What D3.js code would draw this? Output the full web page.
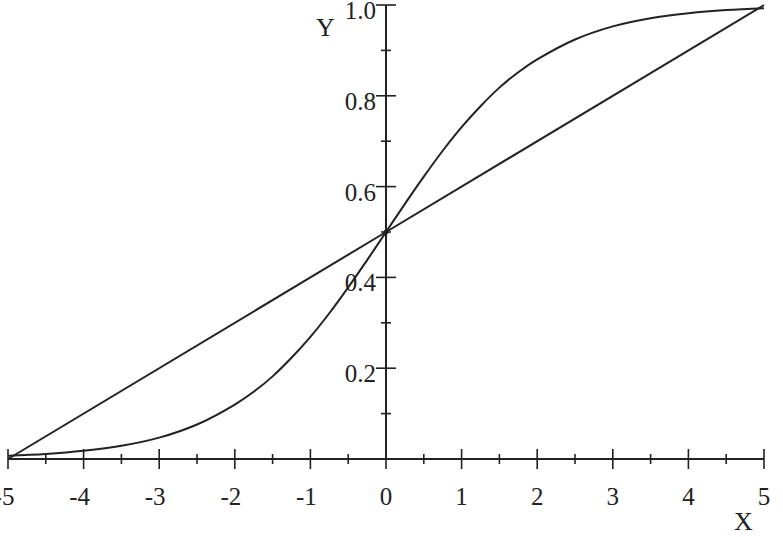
<!DOCTYPE html>
<html>
<head>
<meta charset="utf-8">
<script src="https://cdn.jsdelivr.net/npm/d3@7"></script>
<style>
  body { margin: 0; background: #fff; }
</style>
</head>
<body>
<div id="chart"></div>
<script>
var svgWidth = 783;
var svgHeight = 537;

// values
var curveX = [-5, -4.5, -4, -3.5, -3, -2.5, -2, -1.75, -1.5, -1.25, -1, -0.75, -0.5, -0.25, 0,
              0.25, 0.5, 0.75, 1, 1.25, 1.5, 1.75, 2, 2.5, 3, 3.5, 4, 4.5, 5];
var curveY = [0.007, 0.011, 0.018, 0.029, 0.047, 0.076, 0.12, 0.148, 0.182, 0.223, 0.269, 0.321, 0.378, 0.438, 0.5,
              0.562, 0.622, 0.679, 0.731, 0.777, 0.818, 0.852, 0.88, 0.924, 0.953, 0.971, 0.982, 0.989, 0.993];
var lineX = [-5, 0, 5];
var lineY = [0, 0.5, 1];
var xTicks = [-5, -4, -3, -2, -1, 0, 1, 2, 3, 4, 5];
var xMinor = [-4.5, -3.5, -2.5, -1.5, -0.5, 0.5, 1.5, 2.5, 3.5, 4.5];
var yTicks = [0.2, 0.4, 0.6, 0.8, 1.0];
var yMinor = [0.1, 0.3, 0.5, 0.7, 0.9];

var x = d3.scaleLinear().domain([-5, 5]).range([8, 764]);
var y = d3.scaleLinear().domain([0, 1]).range([459, 5]);

var font = "'Liberation Serif', 'Times New Roman', Times, serif";

var svg = d3.select("#chart").append("svg")
  .attr("width", svgWidth)
  .attr("height", svgHeight);

var ink = "#222";

// x axis
svg.append("line")
  .attr("x1", x(-5)).attr("x2", x(5))
  .attr("y1", y(0)).attr("y2", y(0))
  .attr("stroke", ink).attr("stroke-width", 2);

svg.selectAll(".xmaj").data(xTicks).enter().append("line")
  .attr("x1", d => x(d)).attr("x2", d => x(d))
  .attr("y1", y(0) - 10).attr("y2", y(0) + 10)
  .attr("stroke", ink).attr("stroke-width", 1.6);

svg.selectAll(".xmin").data(xMinor).enter().append("line")
  .attr("x1", d => x(d)).attr("x2", d => x(d))
  .attr("y1", y(0) - 5).attr("y2", y(0) + 5)
  .attr("stroke", ink).attr("stroke-width", 1.6);

svg.selectAll(".xlab").data(xTicks).enter().append("text")
  .attr("x", d => x(d) - (d < 0 ? 4 : 0))
  .attr("y", 505)
  .attr("text-anchor", "middle")
  .attr("font-family", font)
  .attr("font-size", 25)
  .attr("fill", ink)
  .text(d => d);

// y axis
svg.append("line")
  .attr("x1", x(0)).attr("x2", x(0))
  .attr("y1", y(0)).attr("y2", y(1))
  .attr("stroke", ink).attr("stroke-width", 2);

svg.selectAll(".ymaj").data(yTicks).enter().append("line")
  .attr("x1", x(0) - 10).attr("x2", x(0) + 10)
  .attr("y1", d => y(d)).attr("y2", d => y(d))
  .attr("stroke", ink).attr("stroke-width", 1.6);

svg.selectAll(".ymin").data(yMinor).enter().append("line")
  .attr("x1", x(0) - 5).attr("x2", x(0) + 5)
  .attr("y1", d => y(d)).attr("y2", d => y(d))
  .attr("stroke", ink).attr("stroke-width", 1.6);

svg.selectAll(".ylab").data(yTicks).enter().append("text")
  .attr("x", x(0) - 10)
  .attr("y", d => y(d) + 14)
  .attr("text-anchor", "end")
  .attr("font-family", font)
  .attr("font-size", 25)
  .attr("fill", ink)
  .text(d => d.toFixed(1));

svg.append("text")
  .attr("x", 316).attr("y", 36)
  .attr("font-family", font)
  .attr("font-size", 26)
  .attr("fill", ink)
  .text("Y");

svg.append("text")
  .attr("x", 734).attr("y", 530)
  .attr("font-family", font)
  .attr("font-size", 26)
  .attr("fill", ink)
  .text("X");

// curves
var lineGen = d3.line()
  .x(d => x(d[0]))
  .y(d => y(d[1]));

var smoothGen = d3.line()
  .x(d => x(d[0]))
  .y(d => y(d[1]))
  .curve(d3.curveCatmullRom);

svg.append("path")
  .datum(d3.zip(lineX, lineY))
  .attr("d", lineGen)
  .attr("fill", "none")
  .attr("stroke", ink)
  .attr("stroke-width", 2);

svg.append("path")
  .datum(d3.zip(curveX, curveY))
  .attr("d", smoothGen)
  .attr("fill", "none")
  .attr("stroke", ink)
  .attr("stroke-width", 2);

svg.append("circle")
  .attr("cx", x(0)).attr("cy", y(0.5))
  .attr("r", 2.5)
  .attr("fill", ink);
</script>
</body>
</html>
